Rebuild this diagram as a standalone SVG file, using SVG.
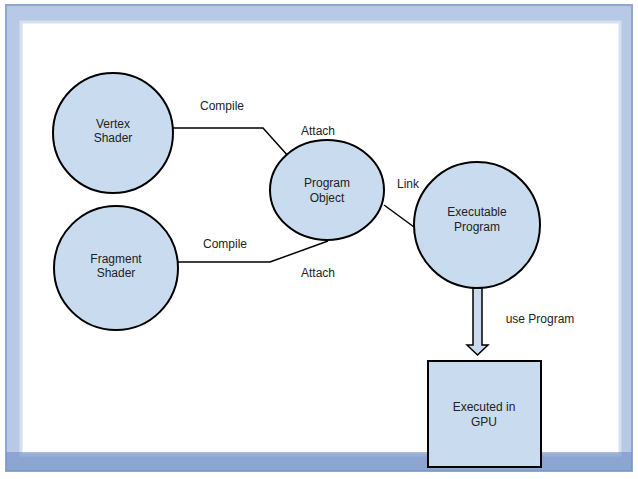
<svg xmlns="http://www.w3.org/2000/svg" width="638" height="479" viewBox="0 0 638 479">
<style>
.n{fill:#c9dcef;stroke:#000;stroke-width:2}
.t{font-family:"Liberation Sans",Arial,sans-serif;font-size:12px;fill:#222;text-anchor:middle}
.c{fill:none;stroke:#000;stroke-width:1.5}
</style>
<rect x="0" y="0" width="638" height="479" fill="#fff"/>
<rect x="6" y="5" width="626" height="466" fill="#b7c9e4" stroke="#8fa8d0" stroke-width="2"/>
<rect x="21" y="22" width="599" height="433" fill="#fff" stroke="#d6e0ef" stroke-width="3"/>
<rect x="6" y="452" width="626" height="19" fill="#6f8fc4" opacity="0.6"/>
<g id="connectors">
<polyline class="c" points="173,128 263,128 289,157"/>
<polyline class="c" points="178,262 270,262 328,241"/>
<line class="c" x1="384" y1="205" x2="414" y2="227"/>
<path d="M473,288 H482 V345 H488 L477.5,355 L467,345 H473 Z" fill="#c9dcef" stroke="#000" stroke-width="1.5"/>
<text class="t" x="222" y="110">Compile</text>
<text class="t" x="318" y="135">Attach</text>
<text class="t" x="225" y="248">Compile</text>
<text class="t" x="318" y="277">Attach</text>
<text class="t" x="408" y="188">Link</text>
<text class="t" x="540" y="323">use Program</text>
</g>
<g id="vertex"><circle class="n" cx="113" cy="133" r="60"/><text class="t" x="113" y="128">Vertex</text><text class="t" x="113" y="142">Shader</text></g>
<g id="fragment"><circle class="n" cx="116" cy="268" r="62"/><text class="t" x="116" y="263">Fragment</text><text class="t" x="116" y="277">Shader</text></g>
<g id="program"><ellipse class="n" cx="327" cy="190" rx="57" ry="50"/><text class="t" x="327" y="187">Program</text><text class="t" x="327" y="202">Object</text></g>
<g id="executable"><circle class="n" cx="477" cy="225" r="63"/><text class="t" x="477" y="216">Executable</text><text class="t" x="477" y="231">Program</text></g>
<g id="gpu"><rect class="n" x="428" y="361" width="113" height="106"/><text class="t" x="484" y="411">Executed in</text><text class="t" x="484" y="426">GPU</text></g>
</svg>
